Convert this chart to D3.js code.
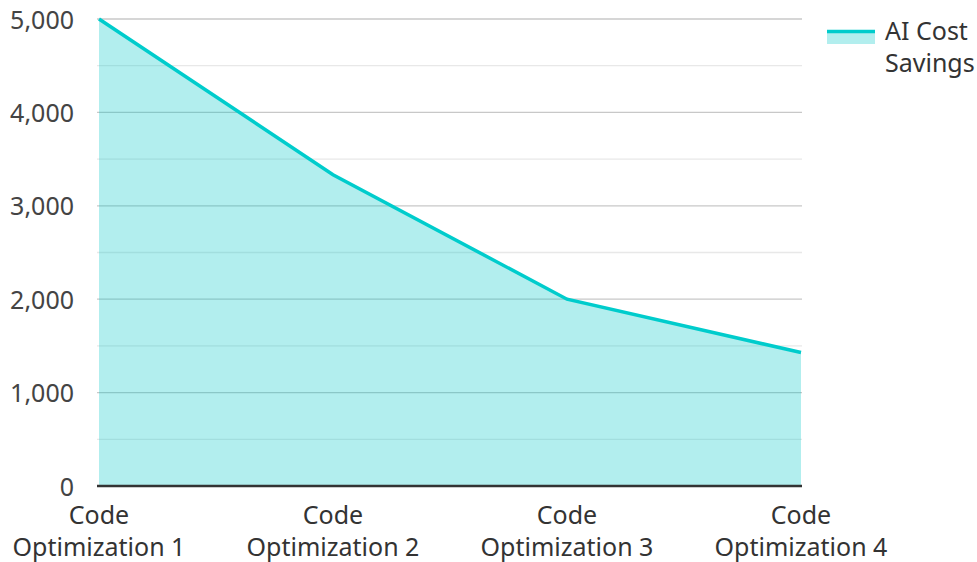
<!DOCTYPE html>
<html>
<head>
<meta charset="utf-8">
<script src="https://cdn.jsdelivr.net/npm/d3@7"></script>
<style>
  body { margin: 0; background: #fff; }
  text { font-family: "Noto Sans", sans-serif; }
</style>
</head>
<body>
<div id="chart"></div>
<script>
const categories = ["Code Optimization 1", "Code Optimization 2", "Code Optimization 3", "Code Optimization 4"];
const savings = [5000, 3333, 2000, 1429];
const yTicks = [0, 1000, 2000, 3000, 4000, 5000];
const yMinor = [500, 1500, 2500, 3500, 4500];
const seriesName = "AI Cost Savings";

const width = 977, height = 562;
const plotLeft = 99, plotRight = 801, plotTop = 19, plotBottom = 486;
const fontSize = 25;

const svg = d3.select("#chart").append("svg")
    .attr("width", width)
    .attr("height", height);

const x = d3.scalePoint()
    .domain(categories)
    .range([plotLeft, plotRight]);

const y = d3.scaleLinear()
    .domain([0, 5000])
    .range([plotBottom, plotTop]);

// minor grid
svg.append("g").selectAll("line")
    .data(yMinor)
    .enter().append("line")
    .attr("x1", plotLeft - 2).attr("x2", plotRight + 1)
    .attr("y1", d => y(d)).attr("y2", d => y(d))
    .attr("stroke", "#e8e8e8").attr("stroke-width", 1.3);

// major grid
svg.append("g").selectAll("line")
    .data(yTicks.filter(d => d > 0))
    .enter().append("line")
    .attr("x1", plotLeft - 2).attr("x2", plotRight + 1)
    .attr("y1", d => y(d)).attr("y2", d => y(d))
    .attr("stroke", "#c8c8c8").attr("stroke-width", 1.3);

const area = d3.area()
    .x((d, i) => x(categories[i]))
    .y0(y(0))
    .y1(d => y(d));

const line = d3.line()
    .x((d, i) => x(categories[i]))
    .y(d => y(d));

svg.append("path")
    .datum(savings)
    .attr("d", area)
    .attr("fill", "#00c8c8")
    .attr("fill-opacity", 0.3);

svg.append("path")
    .datum(savings)
    .attr("d", line)
    .attr("fill", "none")
    .attr("stroke", "#00cccc")
    .attr("stroke-width", 3.5);

// y tick labels
const yAxis = d3.axisLeft(y)
    .tickValues(yTicks)
    .tickSize(0)
    .tickPadding(0)
    .tickFormat(d3.format(","));

svg.append("g")
    .attr("transform", "translate(74,1)")
    .call(yAxis)
    .call(g => g.select(".domain").remove())
    .call(g => g.selectAll("text")
        .attr("font-family", "Noto Sans")
        .attr("font-size", fontSize)
        .attr("fill", "#444"));

// x axis baseline
svg.append("line")
    .attr("x1", plotLeft - 2).attr("x2", plotRight + 1)
    .attr("y1", y(0)).attr("y2", y(0))
    .attr("stroke", "#333").attr("stroke-width", 2.5);

// x labels, split in two lines
const xl = svg.append("g").selectAll("text")
    .data(categories)
    .enter().append("text")
    .attr("x", d => x(d))
    .attr("y", 524)
    .attr("text-anchor", "middle")
    .attr("font-size", fontSize)
    .attr("fill", "#333");

xl.append("tspan")
    .attr("x", d => x(d))
    .text(d => d.split(" ")[0]);
xl.append("tspan")
    .attr("x", d => x(d))
    .attr("dy", 32)
    .text(d => d.split(" ").slice(1).join(" "));

// legend
const lg = svg.append("g");
lg.append("rect")
    .attr("x", 827).attr("y", 30)
    .attr("width", 48).attr("height", 14)
    .attr("fill", "#00c8c8").attr("fill-opacity", 0.3);
lg.append("line")
    .attr("x1", 827).attr("x2", 875)
    .attr("y1", 31.5).attr("y2", 31.5)
    .attr("stroke", "#00cccc").attr("stroke-width", 3.5);
const lt = lg.append("text")
    .attr("x", 885).attr("y", 40)
    .attr("font-size", fontSize)
    .attr("fill", "#333");
lt.append("tspan").attr("x", 885).text(seriesName.split(" ").slice(0, 2).join(" "));
lt.append("tspan").attr("x", 885).attr("dy", 32).text(seriesName.split(" ").slice(2).join(" "));
</script>
</body>
</html>
